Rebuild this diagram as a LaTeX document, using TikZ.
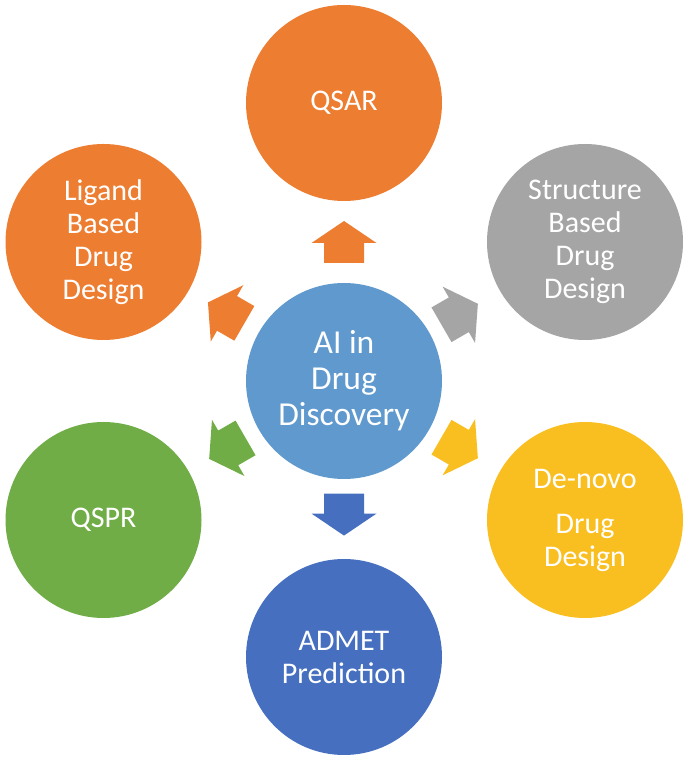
\documentclass[tikz,border=0pt]{standalone}
\usepackage{fontspec}
\setmainfont{Carlito}
\usetikzlibrary{calc}
\definecolor{cOrange}{HTML}{ED7D31}
\definecolor{cGray}{HTML}{A5A5A5}
\definecolor{cYellow}{HTML}{F9BF21}
\definecolor{cGreen}{HTML}{70AD47}
\definecolor{cBlue}{HTML}{4670BF}
\definecolor{cCenter}{HTML}{5F99CD}
\tikzset{
  bubble/.style={circle, minimum size=196pt, inner sep=0pt, text=white, align=center,
    font=\fontsize{30}{33}\selectfont},
  hub/.style={bubble, font=\fontsize{33.5}{36}\selectfont},
  blockarrow/.pic={\fill (0,21) -- (32.5,-1) -- (20,-1) -- (20,-21) -- (-20,-21) -- (-20,-1) -- (-32.5,-1) -- cycle;}
}
\begin{document}
\begin{tikzpicture}[x=1pt,y=1pt]
\useasboundingbox (0,0) rectangle (685,758);
\node[hub, fill=cCenter] (c) at (344,377) {AI in\\Drug\\Discovery};
\node[bubble, fill=cOrange] (qsar) at (344,655) {QSAR};
\node[bubble, fill=cOrange] (lig) at (103.5,516) {Ligand\\Based\\Drug\\Design};
\node[bubble, fill=cGray] (sbd) at (585,516) {Structure\\Based\\Drug\\Design};
\node[bubble, fill=cGreen] (qspr) at (103.5,238) {QSPR};
\node[bubble, fill=cYellow] (dn) at (585,238) {De-novo\\[12pt]Drug\\Design};
\node[bubble, fill=cBlue] (admet) at (344,101) {ADMET\\Prediction};
\pic[fill=cOrange] at ($(c)!0.5!(qsar)$) {blockarrow};
\pic[fill=cOrange, rotate=60] at ($(c)!0.49!(lig)$) {blockarrow};
\pic[fill=cGray, rotate=-60] at ($(c)!0.48!(sbd)$) {blockarrow};
\pic[fill=cGreen, rotate=120] at ($(c)!0.485!(qspr)$) {blockarrow};
\pic[fill=cYellow, rotate=-120] at ($(c)!0.48!(dn)$) {blockarrow};
\pic[fill=cBlue, rotate=180] at ($(c)!0.484!(admet)$) {blockarrow};
\end{tikzpicture}
\end{document}
